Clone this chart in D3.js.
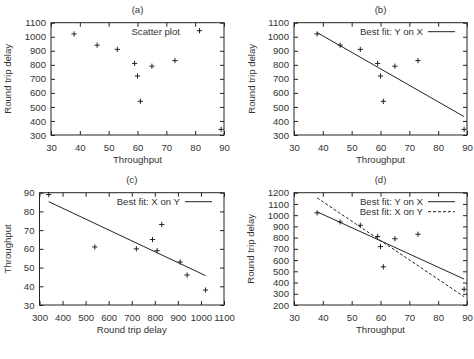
<!DOCTYPE html>
<html>
<head>
<meta charset="utf-8">
<script src="https://cdn.jsdelivr.net/npm/d3@7.9.0/dist/d3.min.js"></script>
<style>
  body { margin: 0; background: #fff; }
  svg text { font-family: 'Liberation Sans', Arial, sans-serif; fill: #333; }
</style>
</head>
<body>
<svg id="chart"></svg>
<script>
// measured data: throughput vs round trip delay
const throughput = [38, 46, 53, 59, 60, 61, 65, 73, 89];
const delay = [1020, 940, 910, 810, 720, 540, 790, 830, 340];

// best fit lines, end points
const fitYonXThr = [38, 89];
const fitYonXDelay = [1030, 431];
const fitXonYDelay = [340, 1020];
const fitXonYThr = [85.2, 45.7];
const fitXonYThrD = [38, 89];
const fitXonYDelayD = [1154, 274];

const thrTicks = [30, 40, 50, 60, 70, 80, 90];
const delayTicks = [300, 400, 500, 600, 700, 800, 900, 1000, 1100];
const delayTicksD = [200, 300, 400, 500, 600, 700, 800, 900, 1000, 1100, 1200];

const width = 474;
const height = 359;

const svg = d3.select('#chart').attr('width', width).attr('height', height);

const panels = [
  {
    title: '(a)', box: { l: 51, r: 224, t: 22.7, b: 135 },
    xDom: [30, 90], yDom: [300, 1100], xTicks: thrTicks, yTicks: delayTicks,
    xLabel: 'Throughput', yLabel: 'Round trip delay', yLabelX: 7,
    points: { x: throughput, y: delay },
    lines: [],
    legend: [{ text: 'Scatter plot', kind: 'point' }],
  },
  {
    title: '(b)', box: { l: 294, r: 467, t: 22.7, b: 135 },
    xDom: [30, 90], yDom: [300, 1100], xTicks: thrTicks, yTicks: delayTicks,
    xLabel: 'Throughput', yLabel: 'Round trip delay', yLabelX: 251,
    points: { x: throughput, y: delay },
    lines: [{ x: fitYonXThr, y: fitYonXDelay, dash: null }],
    legend: [{ text: 'Best fit: Y on X', kind: 'line', dash: null }],
  },
  {
    title: '(c)', box: { l: 39.5, r: 224, t: 192.7, b: 305 },
    xDom: [300, 1100], yDom: [30, 90], xTicks: delayTicks, yTicks: thrTicks,
    xLabel: 'Round trip delay', yLabel: 'Throughput', yLabelX: 7,
    points: { x: delay, y: throughput },
    lines: [{ x: fitXonYDelay, y: fitXonYThr, dash: null }],
    legend: [{ text: 'Best fit: X on Y', kind: 'line', dash: null }],
  },
  {
    title: '(d)', box: { l: 294, r: 467, t: 192.7, b: 305 },
    xDom: [30, 90], yDom: [200, 1200], xTicks: thrTicks, yTicks: delayTicksD,
    xLabel: 'Throughput', yLabel: 'Round trip delay', yLabelX: 250,
    points: { x: throughput, y: delay },
    lines: [
      { x: fitYonXThr, y: fitYonXDelay, dash: null },
      { x: fitXonYThrD, y: fitXonYDelayD, dash: '3,2' },
    ],
    legend: [
      { text: 'Best fit: Y on X', kind: 'line', dash: null },
      { text: 'Best fit: X on Y', kind: 'line', dash: '3,2' },
    ],
  },
];

const ink = '#222';
const tickLen = 4;
const fmt = d3.format('d');

function drawCross(g, cx, cy) {
  const s = 2.6;
  g.append('path')
    .attr('d', `M${cx - s},${cy}H${cx + s}M${cx},${cy - s}V${cy + s}`)
    .attr('stroke', ink)
    .attr('stroke-width', 1)
    .attr('fill', 'none');
}

panels.forEach((p) => {
  const { l, r, t, b } = p.box;
  const x = d3.scaleLinear().domain(p.xDom).range([l, r]);
  const y = d3.scaleLinear().domain(p.yDom).range([b, t]);
  const g = svg.append('g');

  // bottom & left axes with inward ticks
  const xAxis = g.append('g')
    .attr('transform', `translate(0,${b})`)
    .call(d3.axisBottom(x).tickValues(p.xTicks).tickFormat(fmt)
      .tickSizeInner(-tickLen).tickSizeOuter(0).tickPadding(9));
  const yAxis = g.append('g')
    .attr('transform', `translate(${l},0)`)
    .call(d3.axisLeft(y).tickValues(p.yTicks).tickFormat(fmt)
      .tickSizeInner(-tickLen).tickSizeOuter(0).tickPadding(9));
  // mirrored ticks on top & right
  const xTop = g.append('g')
    .attr('transform', `translate(0,${t})`)
    .call(d3.axisTop(x).tickValues(p.xTicks).tickSizeInner(-tickLen).tickSizeOuter(0).tickFormat(''));
  const yRight = g.append('g')
    .attr('transform', `translate(${r},0)`)
    .call(d3.axisRight(y).tickValues(p.yTicks).tickSizeInner(-tickLen).tickSizeOuter(0).tickFormat(''));

  [xAxis, yAxis, xTop, yRight].forEach((a) => {
    a.select('.domain').remove();
    a.selectAll('line').attr('stroke', ink);
    a.selectAll('text')
      .attr('fill', '#333')
      .style('font-size', '9.6px')
      .style('font-family', "'Liberation Sans', Arial, sans-serif");
  });
  yAxis.selectAll('text').attr('dx', '4');

  // frame
  g.append('rect')
    .attr('x', l).attr('y', t)
    .attr('width', r - l).attr('height', b - t)
    .attr('fill', 'none')
    .attr('stroke', ink)
    .attr('stroke-width', 1);

  // fit lines
  p.lines.forEach((ln) => {
    g.append('line')
      .attr('x1', x(ln.x[0])).attr('y1', y(ln.y[0]))
      .attr('x2', x(ln.x[1])).attr('y2', y(ln.y[1]))
      .attr('stroke', ink)
      .attr('stroke-width', 1)
      .attr('stroke-dasharray', ln.dash);
  });

  // scatter points
  p.points.x.forEach((v, i) => drawCross(g, x(v), y(p.points.y[i])));

  // legend (gnuplot style, top right)
  p.legend.forEach((item, i) => {
    const ly = t + 9 + i * 10;
    const sampleEnd = r - 12;
    g.append('text')
      .attr('x', r - 44)
      .attr('y', ly + 3.4)
      .attr('text-anchor', 'end')
      .style('font-size', '9.6px')
      .text(item.text);
    if (item.kind === 'point') {
      drawCross(g, r - 24.5, ly - 1);
    } else {
      g.append('line')
        .attr('x1', sampleEnd - 27).attr('y1', ly)
        .attr('x2', sampleEnd).attr('y2', ly)
        .attr('stroke', ink)
        .attr('stroke-width', 1)
        .attr('stroke-dasharray', item.dash);
    }
  });

  // titles and axis labels
  const cx = (l + r) / 2;
  g.append('text')
    .attr('x', cx).attr('y', t - 10)
    .attr('text-anchor', 'middle')
    .style('font-size', '9.6px')
    .text(p.title);
  g.append('text')
    .attr('x', cx).attr('y', b + 28)
    .attr('text-anchor', 'middle')
    .style('font-size', '9.6px')
    .text(p.xLabel);
  g.append('text')
    .attr('transform', `translate(${p.yLabelX + 3.5},${(t + b) / 2}) rotate(-90)`)
    .attr('text-anchor', 'middle')
    .style('font-size', '9.6px')
    .text(p.yLabel);
});
</script>
</body>
</html>
